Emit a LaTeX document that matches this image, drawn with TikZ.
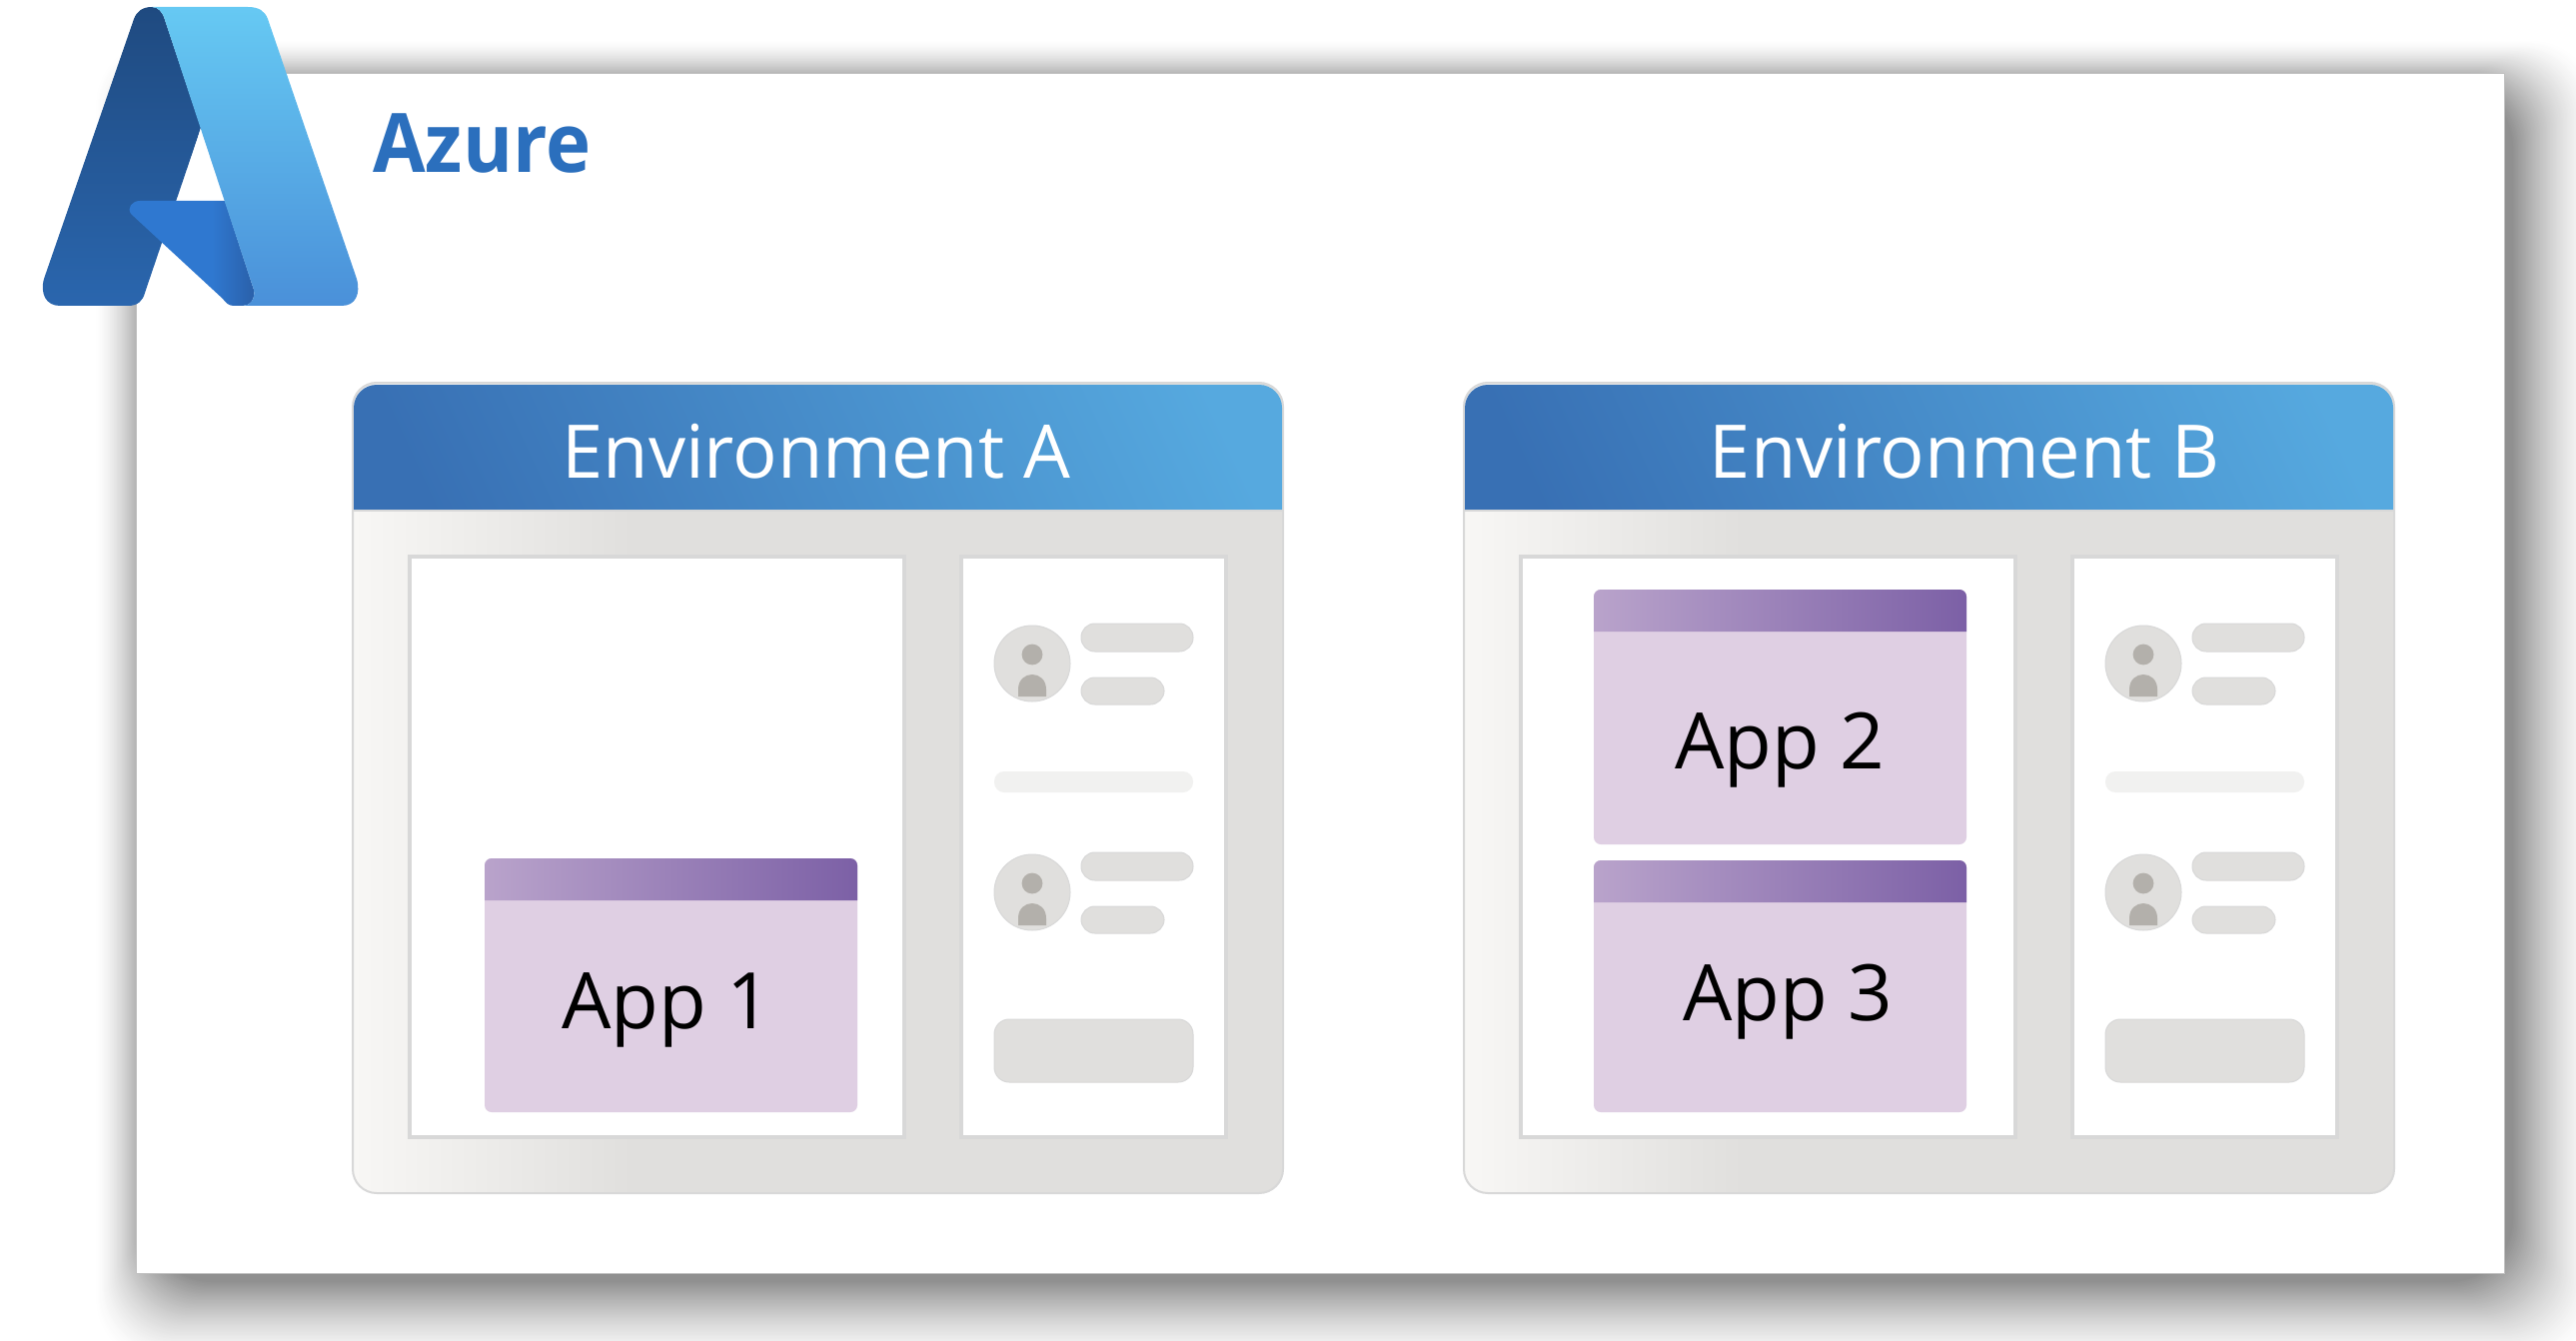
\documentclass[tikz,border=0pt]{standalone}
\usepackage{fontspec}
\setmainfont{Open Sans}
\definecolor{cardL}{HTML}{F8F7F5}
\definecolor{cardG}{HTML}{E0DFDD}
\definecolor{cardE}{HTML}{D8D8D8}
\definecolor{headD}{HTML}{3870B4}
\definecolor{headL}{HTML}{56A9DF}
\definecolor{azuretxt}{HTML}{2B6FBD}
\definecolor{appbody}{HTML}{DFCFE3}
\definecolor{appL}{HTML}{B9A3CB}
\definecolor{appD}{HTML}{7C60A6}
\definecolor{pale}{HTML}{F1F1F0}
\definecolor{person}{HTML}{B3B0AB}
\definecolor{avatar}{HTML}{E0DFDD}
\definecolor{logoA}{HTML}{1F4A80}
\definecolor{logoB}{HTML}{2A66AE}
\definecolor{logoC}{HTML}{66C9F3}
\definecolor{logoD}{HTML}{4A90D9}
\definecolor{logoE}{HTML}{2F78D0}
\definecolor{logoF}{HTML}{2A5FA8}
\pgfdeclarehorizontalshading{cardbody}{100bp}{color(0bp)=(cardL); color(25bp)=(cardL); color(40bp)=(cardG); color(100bp)=(cardG)}
\pgfdeclarehorizontalshading{headgrad}{100bp}{color(0bp)=(headD); color(22bp)=(headD); color(78bp)=(headL); color(100bp)=(headL)}
\pgfdeclarehorizontalshading{midgrad}{100bp}{color(0bp)=(logoE); color(58bp)=(logoE); color(75bp)=(logoF); color(100bp)=(logoF)}
\tikzset{
  x=0.5pt,y=-0.5pt,
  title/.style={font=\fontsize{37}{37}\selectfont,text=white,inner sep=0pt},
  applabel/.style={font=\fontsize{39}{39}\selectfont,text=black,inner sep=0pt,anchor=base},
  panel/.style={fill=white,draw=cardE,line width=2pt},
  pill/.style={fill=avatar,draw=cardE,line width=0.5pt,rounded corners=6.9pt},
  apphead/.style={left color=appL,right color=appD},
}
\newcommand{\persona}[1]{%
  \fill[avatar,draw=cardE,line width=0.5pt] (1033,#1) circle[radius=19pt];
  \fill[person] (1033,#1-9) ellipse[x radius=5.2pt,y radius=5.2pt];
  \fill[person] (1019,#1+33) -- (1019,#1+26) .. controls (1019,#1+6) and (1047,#1+6) .. (1047,#1+26) -- (1047,#1+33) -- cycle;
  \path[pill] (1082,#1-40) rectangle (1194,#1-12);
  \path[pill] (1082,#1+14) rectangle (1165,#1+41);
}
\newcommand{\envcard}[4]{%
  \begin{scope}[xshift=#1]
    \path[shading=cardbody,rounded corners=12pt] (353,383) rectangle (1284,1194);
    \draw[cardE,line width=1pt,rounded corners=12pt] (353,383) rectangle (1284,1194);
    \path[shading=headgrad,shading angle=25] (354,510) -- (354,408) arc[start angle=180,end angle=90,radius=11.5pt] -- (1260,385) arc[start angle=90,end angle=0,radius=11.5pt] -- (1283,510) -- cycle;
    \draw[cardE,line width=1pt] (354,511) -- (1283,511);
    \path[panel] (410,557) rectangle (905,1138);
    \path[panel] (962,557) rectangle (1227,1138);
    \persona{664}
    \persona{893}
    \fill[pale,rounded corners=5pt] (995,772) rectangle (1194,793);
    \path[pill,rounded corners=7.5pt] (995,1020) rectangle (1194,1083);
    \node[title] (#2) at (#3,452) {#4};
  \end{scope}
}
\newcommand{\appwin}[3]{% left, top, bottom
  \fill[appbody,rounded corners=3.5pt] (#1,#2) rectangle (#1+373,#3);
  \path[apphead] (#1,#2+42) -- (#1,#2+7) arc[start angle=180,end angle=90,radius=3.5pt] -- (#1+366,#2) arc[start angle=90,end angle=0,radius=3.5pt] -- (#1+373,#2+42) -- cycle;
}
\begin{document}
\begin{tikzpicture}
\useasboundingbox (0,0) rectangle (2578,1342);
\clip (0,0) rectangle (2578,1342);
\fill[white] (0,0) rectangle (2578,1342);
% soft drop shadow
\foreach \i in {0,...,60}{
  \pgfmathsetmacro\tt{\i/60}
  \pgfmathsetmacro\xa{95+53*\tt}
  \pgfmathsetmacro\ya{40+44*\tt}
  \pgfmathsetmacro\xb{2600-85*\tt}
  \pgfmathsetmacro\yb{1366-83*\tt}
  \pgfmathsetmacro\pp{43.5*\tt*sqrt(\tt)}
  \fill[black!\pp!white,rounded corners=32pt] (\xa,\ya) rectangle (\xb,\yb);
}
% main board
\fill[white] (136,74) rectangle (2506,1274);
\draw[black!24,line width=0.5pt] (136,74) rectangle (2506,1274);
% Azure logo
\path[top color=logoA,bottom color=logoB]
  (152,7) .. controls (143,7) and (137,11) .. (134,19)
  -- (44,279) .. controls (40,294) and (46,306) .. (60,306)
  -- (128,306) .. controls (138,306) and (143,301) .. (145,293)
  -- (201,128) -- (165,20) .. controls (163,12) and (158,7) .. (152,7) -- cycle;
\fill[white] (201,128) -- (178,201) -- (225,201) -- cycle;
\path[shading=midgrad]
  (140,201) -- (225,201) -- (254,290) .. controls (256,299) and (250,306) .. (243,306)
  -- (234,306) .. controls (229,306) and (226,303) .. (223,299)
  -- (131,214) .. controls (127,208) and (132,201) .. (140,201) -- cycle;
\path[top color=logoC,bottom color=logoD]
  (152,7) -- (248,7) .. controls (259,7) and (265,11) .. (268,19)
  -- (357,279) .. controls (361,294) and (356,306) .. (342,306)
  -- (243,306) .. controls (250,306) and (256,299) .. (254,290)
  -- (165,20) .. controls (163,12) and (158,7) .. (152,7) -- cycle;
\node[font=\fontsize{41}{41}\selectfont\bfseries,text=azuretxt,inner sep=0pt,anchor=base west,xscale=0.93] (azure) at (373,173) {Azure};
% environments
\envcard{0pt}{envA}{817}{Environment A}
\envcard{556pt}{envB}{854}{Environment B}
% applications
\appwin{485}{859}{1113}
\appwin{1595}{590}{845}
\appwin{1595}{861}{1113}
\node[applabel] (app1) at (667,1029) {App 1};
\node[applabel] (app2) at (1781,769) {App 2};
\node[applabel] (app3) at (1789,1021) {App 3};
\end{tikzpicture}
\end{document}
